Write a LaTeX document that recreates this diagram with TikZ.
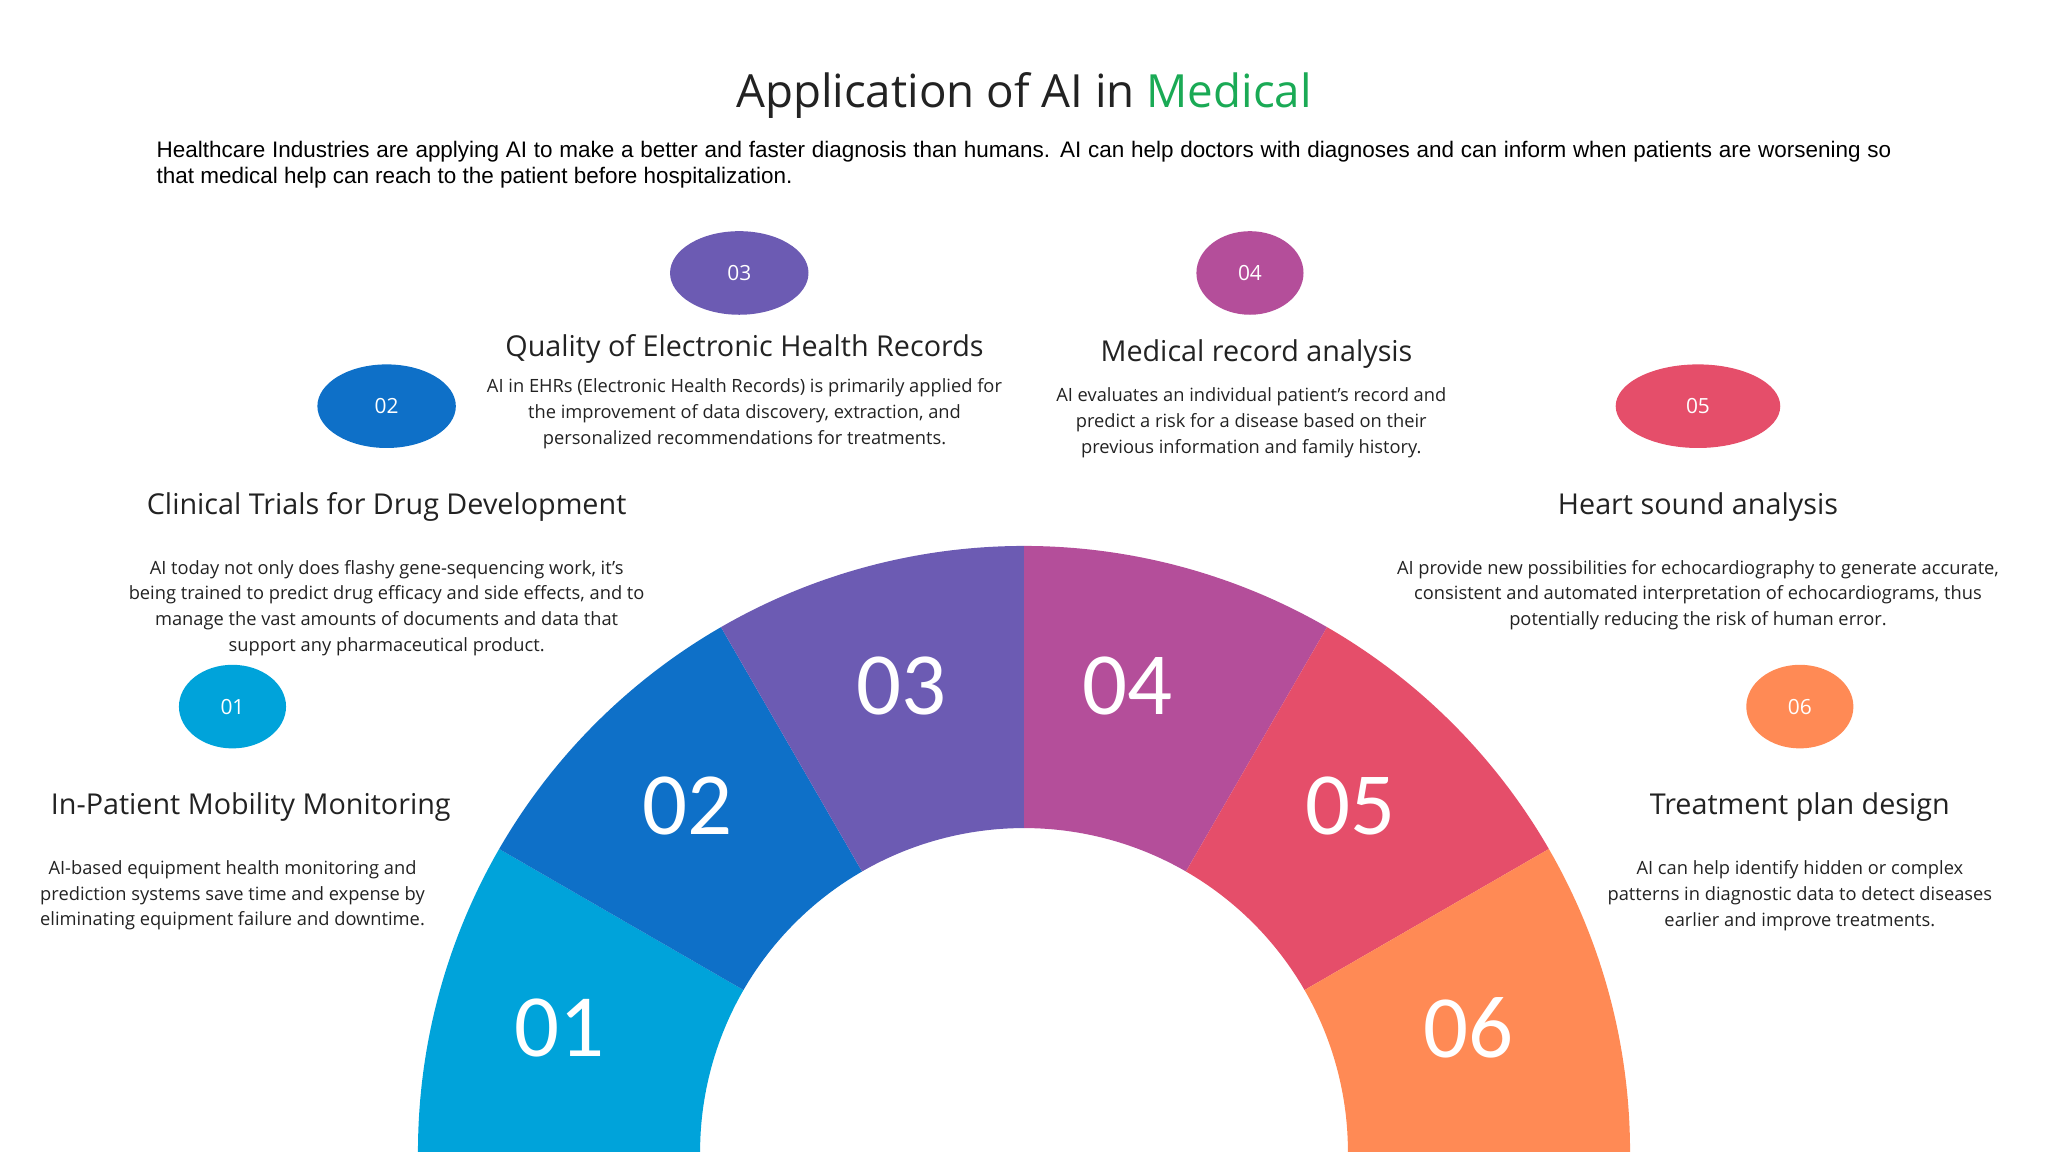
\documentclass[tikz,border=0pt]{standalone}
\usepackage{fontspec}
\setmainfont{Open Sans}
\newfontfamily\numfont{Carlito}
\newfontfamily\introfont{Liberation Sans}
\usetikzlibrary{calc,shapes.geometric}
\definecolor{cA}{HTML}{00A3DA}
\definecolor{cB}{HTML}{0E70C8}
\definecolor{cC}{HTML}{6C5BB3}
\definecolor{cD}{HTML}{B44E9A}
\definecolor{cE}{HTML}{E54E6A}
\definecolor{cF}{HTML}{FF8A55}
\definecolor{grn}{HTML}{1AAA55}
\definecolor{txt}{HTML}{222222}
\tikzset{
 bignum/.style={text=white,font=\numfont\fontsize{34}{34}\selectfont},
 badge/.style={ellipse,fill=#1,text=white,font=\fontsize{8}{8}\selectfont,inner sep=0pt},
 head/.style={text=txt,font=\fontsize{11}{13}\selectfont,anchor=center},
 body/.style={text=txt,font=\fontsize{7}{9.8}\selectfont,align=center,anchor=north},
}
\begin{document}
\begin{tikzpicture}[x=0.5pt,y=0.5pt]
\useasboundingbox (0,0) rectangle (1568,882);
\coordinate (C) at (784,0);
\foreach \a/\c in {180/cA,150/cB,120/cC,90/cD,60/cE,30/cF}{
 \fill[\c] ($(C)+(\a:232pt)$) arc[start angle=\a,end angle=\a-30,radius=232pt]
   -- ($(C)+(\a-30:124pt)$) arc[start angle=\a-30,end angle=\a,radius=124pt] -- cycle;
}
\node[bignum] (n1) at (428,95) {01};
\node[bignum] (n2) at (526,265) {02};
\node[bignum] (n3) at (690,357) {03};
\node[bignum] (n4) at (863,357) {04};
\node[bignum] (n5) at (1034,265) {05};
\node[bignum] (n6) at (1124,95) {06};
% title
\node[text=txt,font=\fontsize{17.5}{20}\selectfont] (title) at (784,809) {Application of AI in \textcolor{grn}{Medical}};
\node[text=black,font=\introfont\fontsize{8.6}{9.8}\selectfont,text width=664pt,align=justify,anchor=north,inner sep=0pt] (intro) at (784,774)
 {Healthcare Industries are applying AI to make a better and faster diagnosis than humans. AI can help doctors with diagnoses and can inform when patients are worsening so that medical help can reach to the patient before hospitalization.};
% badges
\node[badge=cC,minimum width=53pt,minimum height=32pt] (b3) at (566,673) {03};
\node[badge=cD,minimum width=41pt,minimum height=32pt] (b4) at (957,673) {04};
\node[badge=cB,minimum width=53pt,minimum height=32pt] (b2) at (296,571) {02};
\node[badge=cE,minimum width=63pt,minimum height=32pt] (b5) at (1300,571) {05};
\node[badge=cA,minimum width=41pt,minimum height=32pt] (b1) at (178,341) {01};
\node[badge=cF,minimum width=41pt,minimum height=32pt] (b6) at (1378,341) {06};
% headings and bodies
\node[head] (h3) at (570,615) {Quality of Electronic Health Records};
\node[body] (t3) at (570,599) {AI in EHRs (Electronic Health Records) is primarily applied for\\the improvement of data discovery, extraction, and\\personalized recommendations for treatments.};
\node[head] (h4) at (962,611) {Medical record analysis};
\node[body] (t4) at (958,592) {AI evaluates an individual patient's record and\\predict a risk for a disease based on their\\previous information and family history.};
\node[head] (h2) at (296,494) {Clinical Trials for Drug Development};
\node[body] (t2) at (296,460) {AI today not only does flashy gene-sequencing work, it's\\being trained to predict drug efficacy and side effects, and to\\manage the vast amounts of documents and data that\\support any pharmaceutical product.};
\node[head] (h5) at (1300,494) {Heart sound analysis};
\node[body] (t5) at (1300,460) {AI provide new possibilities for echocardiography to generate accurate,\\consistent and automated interpretation of echocardiograms, thus\\potentially reducing the risk of human error.};
\node[head] (h1) at (192,264) {In-Patient Mobility Monitoring};
\node[body] (t1) at (178,230) {AI-based equipment health monitoring and\\prediction systems save time and expense by\\eliminating equipment failure and downtime.};
\node[head] (h6) at (1378,264) {Treatment plan design};
\node[body] (t6) at (1378,230) {AI can help identify hidden or complex\\patterns in diagnostic data to detect diseases\\earlier and improve treatments.};
\end{tikzpicture}
\end{document}
